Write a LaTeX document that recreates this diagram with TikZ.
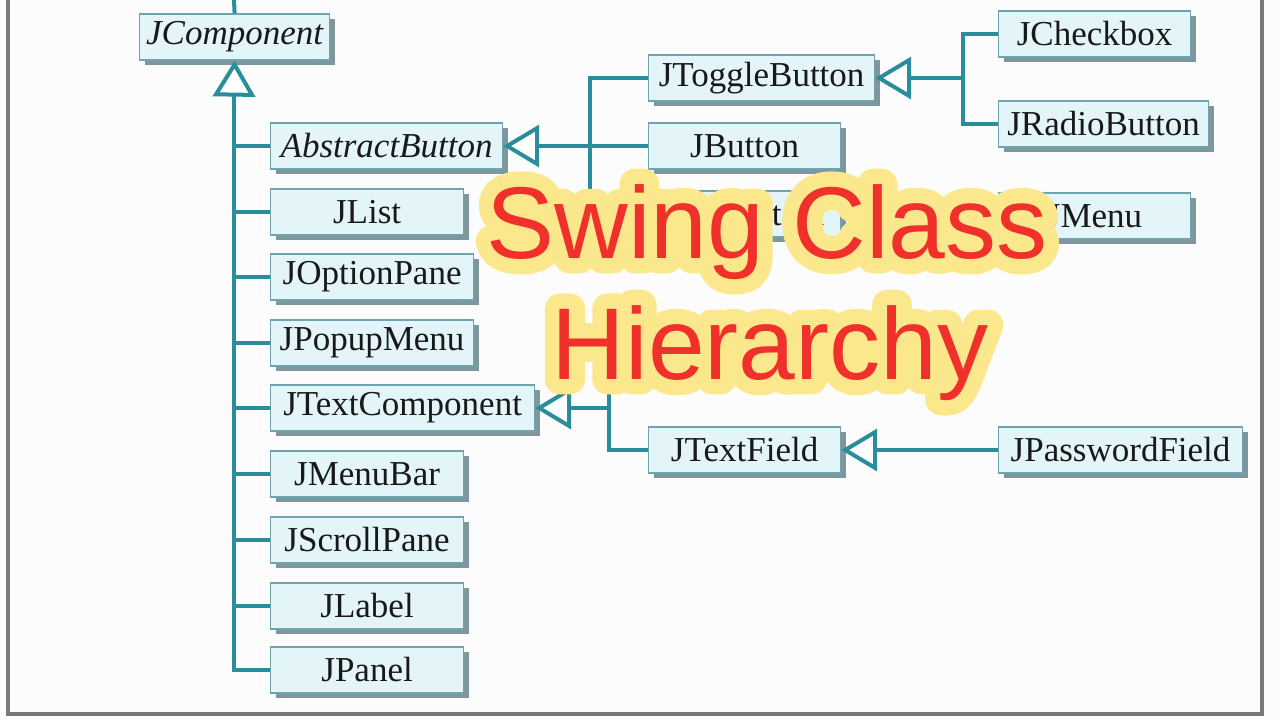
\documentclass[tikz,border=0pt]{standalone}
\usepackage{fontspec}
\setmainfont{Liberation Serif}
\newfontfamily\titlefont{Liberation Sans}
\newfontfamily\glowfont[FakeBold=30]{Liberation Sans}
\usetikzlibrary{arrows.meta,shadows,calc}
\definecolor{teal1}{HTML}{2A8D9C}
\definecolor{boxfill}{HTML}{E3F5F9}
\definecolor{boxdraw}{HTML}{6FA3AD}
\definecolor{shadowc}{HTML}{7D979C}
\definecolor{titlered}{HTML}{F0302A}
\definecolor{glow}{HTML}{FCE88C}
\definecolor{framec}{HTML}{7A7A7A}
\tikzset{
  cls/.style={draw=boxdraw, line width=0.6pt, fill=boxfill, anchor=west,
    minimum height=23pt, inner sep=0pt, text=black!90,
    font=\fontsize{17.5}{20}\selectfont,
    drop shadow={shadow xshift=2.5pt, shadow yshift=-2.5pt, fill=shadowc, opacity=1}},
  conn/.style={draw=teal1, line width=2pt},
  gen/.style={conn, -{Triangle[fill=white, length=18pt, width=21pt]}},
  ttl/.style={anchor=base, inner sep=0pt, font=\titlefont\fontsize{51}{60}\selectfont},
  glowtxt/.style={anchor=base, inner sep=0pt, text=glow, font=\glowfont\fontsize{51}{60}\selectfont},
}
\begin{document}
\begin{tikzpicture}[x=0.5pt, y=-0.5pt]
\useasboundingbox (0,0) rectangle (1280,720);
\fill[white!98!gray] (0,0) rectangle (1280,720);
\draw[framec, line width=2pt] (8,-5) -- (8,714) -- (1262,714) -- (1262,-5);

% root
\node[cls, minimum width=95pt] (JComponent) at (139,37) {\itshape JComponent};

% children of JComponent
\node[cls, minimum width=116pt] (AbstractButton) at (270,146) {\itshape AbstractButton};
\node[cls, minimum width=96.5pt] (JList) at (270,212) {JList};
\node[cls, minimum width=101.5pt] (JOptionPane) at (270,277) {JOptionPane};
\node[cls, minimum width=101.5pt] (JPopupMenu) at (270,343) {JPopupMenu};
\node[cls, minimum width=132pt] (JTextComponent) at (270,408) {JTextComponent};
\node[cls, minimum width=96.5pt] (JMenuBar) at (270,474) {JMenuBar};
\node[cls, minimum width=96.5pt] (JScrollPane) at (270,540) {JScrollPane};
\node[cls, minimum width=96.5pt] (JLabel) at (270,606) {JLabel};
\node[cls, minimum width=96.5pt] (JPanel) at (270,670) {JPanel};

% AbstractButton subclasses
\node[cls, minimum width=113pt] (JToggleButton) at (648,78) {JToggleButton};
\node[cls, minimum width=96pt] (JButton) at (648,146) {JButton};
\node[cls, minimum width=96pt] (JMenuItem) at (648,214) {JMenuItem};

% JToggleButton subclasses
\node[cls, minimum width=96pt] (JCheckbox) at (998,34) {JCheckbox};
\node[cls, minimum width=105pt] (JRadioButton) at (998,124) {JRadioButton};

% JMenuItem subclass
\node[cls, minimum width=96pt] (JMenu) at (998,216) {JMenu};

% JTextComponent subclasses
\node[cls, minimum width=96pt] (JTextField) at (648,450) {JTextField};
\node[cls, minimum width=122pt] (JPasswordField) at (998,450) {JPasswordField};

% connectors: JComponent
\coordinate (topin) at (234,0);
\draw[conn] (topin) -- (JComponent.north);
\coordinate (t0) at (234,97);
\draw[gen] (t0) -- (JComponent.south);
\draw[conn] (t0) |- (JPanel.west);
\foreach \c in {AbstractButton,JList,JOptionPane,JPopupMenu,JTextComponent,JMenuBar,JScrollPane,JLabel}{
  \draw[conn] (t0 |- \c.west) -- (\c.west);
}

% connectors: AbstractButton
\coordinate (abv) at (590,0);
\draw[gen] (JButton.west) -- (AbstractButton.east);
\draw[conn] (JToggleButton.west) -- (abv |- JToggleButton.west) -- (abv |- JMenuItem.west) -- (JMenuItem.west);

% connectors: JToggleButton
\coordinate (tgv) at (963,0);
\draw[gen] (tgv |- JToggleButton.east) -- (JToggleButton.east);
\draw[conn] (JCheckbox.west) -- (tgv |- JCheckbox.west) -- (tgv |- JRadioButton.west) -- (JRadioButton.west);

% connectors: JMenuItem
\draw[gen] (JMenu.west) -- (JMenuItem.east);

% connectors: JTextComponent
\coordinate (tcv) at (609,0);
\coordinate (tctop) at (609,388);
\draw[gen] (tcv |- JTextComponent.east) -- (JTextComponent.east);
\draw[conn] (tctop) -- (tcv |- JTextField.west) -- (JTextField.west);

% connectors: JTextField
\draw[gen] (JPasswordField.west) -- (JTextField.east);

% title overlay with glow
\begin{scope}[line join=round, line cap=round]
\node[glowtxt] (glow1) at (767,258) {Swing Class};
\node[glowtxt] (glow2) at (770,379) {Hierarchy};
\end{scope}
\node[ttl, text=titlered] (title1) at (767,258) {Swing Class};
\node[ttl, text=titlered] (title2) at (770,379) {Hierarchy};
\end{tikzpicture}
\end{document}
